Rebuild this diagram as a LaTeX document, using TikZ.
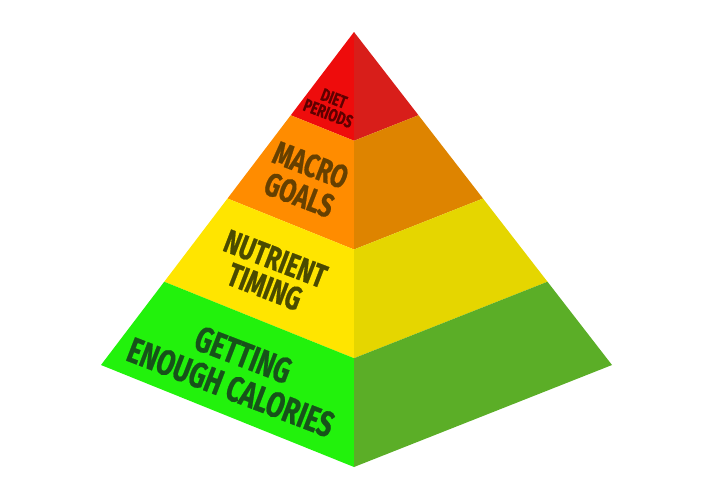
\documentclass[tikz,border=0pt]{standalone}
\usepackage{fontspec}
\newfontfamily\pyrfont[FakeStretch=0.72,FakeBold=0.6]{Fira Sans}
\usetikzlibrary{calc}
\definecolor{redL}{HTML}{EE0C0C}
\definecolor{redR}{HTML}{D81E1A}
\definecolor{orgL}{HTML}{FF8C00}
\definecolor{orgR}{HTML}{DE8400}
\definecolor{yelL}{HTML}{FFE500}
\definecolor{yelR}{HTML}{E5D600}
\definecolor{grnL}{HTML}{22F20C}
\definecolor{grnR}{HTML}{5BAE27}
\definecolor{redT}{HTML}{5E0000}
\definecolor{orgT}{HTML}{664000}
\definecolor{yelT}{HTML}{4A4A00}
\definecolor{grnT}{HTML}{17521A}
\tikzset{
  lbl/.style={rotate=-21, align=center, inner sep=0pt, font=\pyrfont\bfseries},
}
\begin{document}
\begin{tikzpicture}[x=1pt,y=-1pt]
\useasboundingbox (0,0) rectangle (702,482);
\coordinate (A) at (354,32);
\coordinate (L) at (101,365);
\coordinate (F) at (354,467);
\coordinate (R) at (612,365);
\foreach \t/\n in {0.25/1,0.5/2,0.75/3}{
  \coordinate (L\n) at ($(A)!\t!(L)$);
  \coordinate (F\n) at ($(A)!\t!(F)$);
  \coordinate (R\n) at ($(A)!\t!(R)$);
}
% left face
\fill[redL] (A) -- (L1) -- (F1) -- cycle;
\fill[orgL] (L1) -- (L2) -- (F2) -- (F1) -- cycle;
\fill[yelL] (L2) -- (L3) -- (F3) -- (F2) -- cycle;
\fill[grnL] (L3) -- (L) -- (F) -- (F3) -- cycle;
% right face
\fill[redR] (A) -- (F1) -- (R1) -- cycle;
\fill[orgR] (F1) -- (F2) -- (R2) -- (R1) -- cycle;
\fill[yelR] (F2) -- (F3) -- (R3) -- (R2) -- cycle;
\fill[grnR] (F3) -- (F) -- (R) -- (R3) -- cycle;
% labels
\node[lbl, text=redT, font=\pyrfont\bfseries\fontsize{18}{16}\selectfont] (t1) at (331,106) {DIET\\PERIODS};
\node[lbl, text=orgT, font=\pyrfont\bfseries\fontsize{33}{32}\selectfont] (t2) at (305,180) {MACRO\\GOALS};
\node[lbl, text=yelT, font=\pyrfont\bfseries\fontsize{33}{30}\selectfont] (t3) at (270,273) {NUTRIENT\\TIMING};
\node[lbl, text=grnT, font=\pyrfont\bfseries\fontsize{36}{35}\selectfont] (t4) at (237,371) {GETTING\\ENOUGH CALORIES};
\end{tikzpicture}
\end{document}
